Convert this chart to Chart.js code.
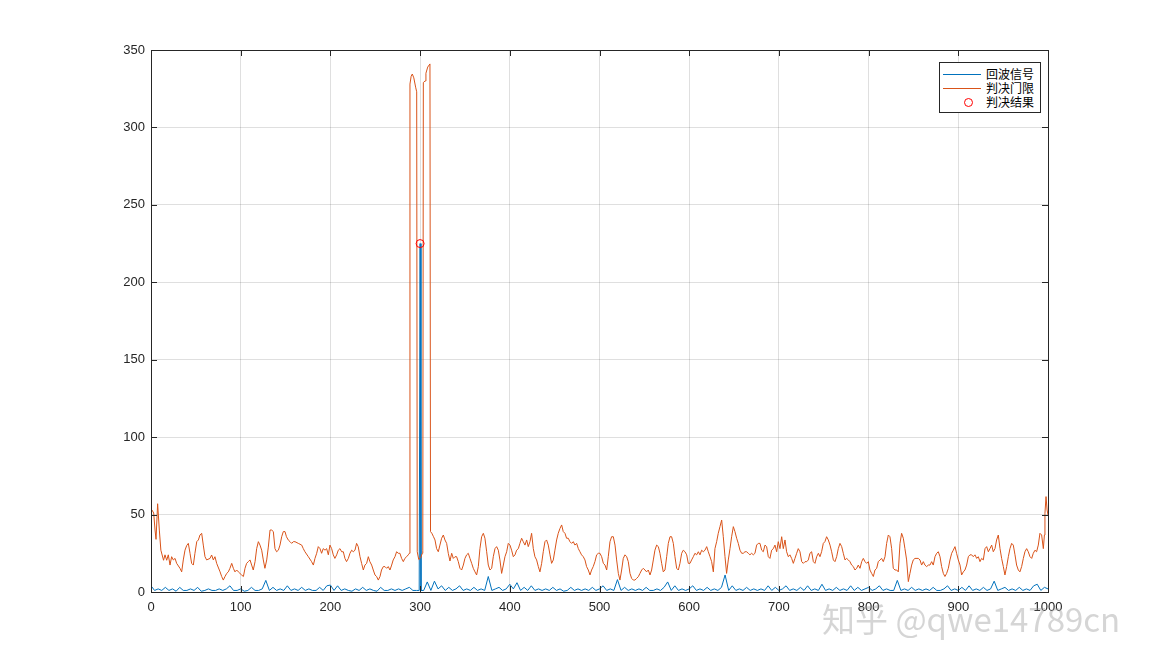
<!DOCTYPE html>
<html>
<head>
<meta charset="utf-8">
<script src="https://cdn.jsdelivr.net/npm/chart.js@4.4.0/dist/chart.umd.min.js"></script>
<style>
  body { margin: 0; background: #fff; }
  #wrap { position: relative; width: 1159px; height: 665px; }
  #legend {
    position: absolute; left: 939px; top: 62px; width: 102px; height: 51px;
    border: 1px solid #262626; background: #fff; box-sizing: border-box;
    font-family: "Noto Sans CJK SC", sans-serif; font-size: 12px; color: #000;
  }
  #legend .row { position: absolute; left: 0; width: 100%; height: 14px; line-height: 14px; }
  #legend .sample { position: absolute; left: 3px; top: 7px; width: 38px; border-top: 1px solid; }
  #legend .mark { position: absolute; left: 24px; top: 3px; width: 7px; height: 7px; border: 1px solid #ff0000; border-radius: 50%; }
  #legend .txt { position: absolute; left: 46px; top: 0; }
  #mark {
    position: absolute; left: 822px; top: 594px; white-space: nowrap;
    font-family: "Noto Sans CJK SC", sans-serif; font-size: 33px;
    color: rgba(150, 150, 150, 0.4);
  }
</style>
</head>
<body>
<div id="wrap">
  <canvas id="graphique" width="1159" height="665"></canvas>
  <div id="legend"></div>
  <div id="mark">知乎 @qwe14789cn</div>
</div>
<script>
// Libellés de la légende
const seriesLabels = ['回波信号', '判决门限', '判决结果'];

// Signal d'écho, un échantillon tous les 4 points (x = 0, 4, ..., 1000)
const echoStep = 4;
const echoVals = [
  4, 1, 2, 1, 3, 1, 2, 0.5, 3, 1,
  1, 2, 1, 3, 0.5, 1, 2, 1, 1, 2,
  1, 2, 4, 1, 1, 2, 0.5, 1, 3, 1,
  1, 2, 7.5, 1, 3, 1, 2, 1, 4, 1,
  2, 1, 3, 1, 2, 1, 1, 3, 1, 4,
  4.5, 1, 4, 1, 2, 1, 0.5, 2, 1, 3,
  1, 2, 1, 0.5, 3, 1, 1, 2, 1, 2,
  1, 2, 3, 1, 1, 1, 1, 6.5, 1, 7,
  2, 4, 1, 3, 1, 2, 4, 1, 2, 1,
  3, 1, 2, 1, 10, 1, 2, 3, 1, 2,
  5, 2, 6, 1, 3, 1, 4, 1, 2, 1,
  2, 1, 3, 1, 2, 0.5, 1, 3, 1, 2,
  1, 2, 1, 3, 1, 2, 4, 1, 2, 1,
  8, 1, 3, 1, 2, 1, 2, 1, 3, 1,
  1, 2, 1, 3, 6.5, 1, 4, 1, 2, 1,
  2, 4, 1, 2, 1, 3, 1, 2, 1, 3,
  11, 1, 4, 1, 2, 1, 3, 1, 2, 1,
  2, 1, 4, 1, 3, 1, 2, 4, 1, 2,
  1, 3, 1, 4, 1, 2, 1, 5, 1, 2,
  1, 3, 1, 2, 1, 4, 1, 3, 1, 2,
  3, 1, 2, 4, 1, 2, 1, 1, 7.5, 1,
  2, 1, 3, 1, 2, 1, 2, 1, 3, 1,
  1, 2, 4, 1, 2, 1, 3, 1, 4, 1,
  2, 1, 3, 1, 2, 7, 1, 2, 3, 1,
  2, 1, 3, 1, 2, 1, 4, 5, 1, 3,
  2
];
// Le pic de la cible
const echoPeak = [[299, 1], [300, 225], [301, 1]];

// Seuil de décision [x, y]
const thresholdPts = [
  [1, 53], [3, 51], [4.5, 40], [5.6, 34], [7.4, 57], [9.3, 40], [11, 27], [14, 20.5], [15.6, 24], [17.5, 20.5],
  [19.3, 24], [21.2, 17.4], [23, 22.8], [24.9, 20.7], [26.8, 21.7], [28.6, 18.5], [32.3, 15.3], [34.2, 13], [36, 20.7], [37.9, 27],
  [39.8, 30], [41.6, 31.4], [43.5, 25], [45.3, 18.5], [47.2, 17.4], [49, 25], [51, 32.5], [52.8, 33.6], [54.6, 36.8], [56.5, 37.9],
  [58.3, 30.3], [60.2, 22.8], [62, 20.7], [65.8, 21.7], [67.6, 23.9], [69.5, 20.7], [71.3, 22.8], [73.2, 18.5], [77, 13], [78.8, 10],
  [80.6, 7.7], [82.5, 10], [84.4, 12], [86.2, 13], [88, 15.3], [90, 18.5], [91.8, 15.3], [93.6, 13], [95.5, 14.2], [97.4, 13],
  [99.2, 12], [101, 11], [103, 10], [104.8, 15.3], [106.6, 18.5], [108.5, 19.6], [110.4, 20.7], [112.2, 17.4], [114, 14.2], [116, 19.6],
  [117.8, 28], [119.7, 32.5], [121.5, 30.3], [123.4, 27], [125.2, 20.7], [127, 15.3], [129, 20.7], [130.8, 29], [132.7, 40], [134.5, 40],
  [136.4, 39], [138.2, 28], [140, 26], [142, 27], [143.8, 30.3], [145.7, 35.7], [147.5, 39], [149.4, 39], [151, 35.7], [153, 33.6],
  [155, 32.5], [156.8, 31.4], [158.7, 32.5], [160.5, 32.5], [164.2, 31.4], [168, 30.3], [169.8, 28], [171.6, 26], [175.4, 22.8], [179, 19.6],
  [181, 17.4], [182.8, 21.7], [184.7, 25], [186.5, 29.3], [188.4, 28], [190.2, 25], [192, 28], [194, 27], [195.8, 28], [197.7, 24],
  [199.5, 30.3], [201.4, 28], [203.2, 24], [205, 21.7], [207, 24], [208.8, 27], [210.7, 28], [212.5, 26], [214.4, 26], [216.2, 21.7],
  [218, 19.6], [220, 21.7], [221.8, 25], [223.7, 27], [225.5, 26], [227.4, 27], [229.2, 31.4], [231, 29.3], [233, 22.8], [234.8, 18.5],
  [236.7, 14.2], [238.5, 17.4], [240.4, 18.5], [242.3, 22.8], [244, 19.6], [246, 17.4], [247.8, 14.2], [249.7, 11], [251.5, 10], [253.4, 7.7],
  [255.3, 10], [257, 14.2], [259, 16.4], [260.8, 16.4], [262.7, 15.3], [264.5, 16.4], [266.4, 14.2], [268.3, 17.4], [270, 20.7], [272, 22.8],
  [273.8, 26], [275.7, 25], [277.5, 25], [279.4, 21.7], [281.3, 19.6], [283, 21.7], [285, 22.8], [286.8, 24], [288, 25],
  [288.7, 328], [290, 333], [291.3, 334.5], [293, 332], [295, 326], [296.2, 323], [296.8, 26], [298.5, 21], [300.5, 22], [302.5, 25],
  [303, 27], [303.6, 329], [305.5, 330], [306.5, 335], [308.5, 339], [311, 341], [311.6, 39],
  [313, 38], [314.7, 36], [316.6, 33.6], [318.4, 28], [320.3, 26], [322.1, 30.3], [324, 34.7], [325.9, 36.8], [327.7, 33.6], [329.6, 31.4],
  [331.4, 25], [333.3, 20], [335.2, 25], [337, 21.7], [338.9, 22.8], [340.7, 22.8], [342.6, 19.6], [344.4, 15.3], [346.3, 14.2], [348.2, 17.4],
  [350, 21.7], [351.9, 24], [353.7, 25], [355.6, 21.7], [357.5, 18.5], [359.3, 15.3], [361.2, 13], [363, 11], [364.9, 16.4], [366.7, 28],
  [368.6, 35.7], [370.5, 37.9], [372.3, 34.7], [374.2, 26], [376, 17.4], [377.9, 14.2], [379.8, 15.3], [381.6, 22.8], [383.5, 28], [385.3, 29.3],
  [387.2, 27], [389, 20.7], [390.9, 12], [392.8, 17.4], [394.6, 22.8], [396.5, 26], [398.3, 31.4], [400.2, 30.3], [402, 27], [403.9, 22.8],
  [405.8, 24], [407.6, 27], [409.5, 28], [411.3, 31.4], [413.2, 34.7], [415, 32.5], [416.9, 30.3], [418.8, 33.6], [420.6, 29.3], [422.5, 32.5],
  [424.3, 37.9], [426.2, 28], [428, 22.8], [429.9, 20.7], [431.8, 16.4], [433.6, 13], [435.5, 18.5], [437.3, 26], [439.2, 32.5], [441, 33.6],
  [442.9, 30.3], [444.8, 24], [446.6, 18.5], [448.5, 20.7], [450.3, 27], [452.2, 33.6], [454, 37.9], [455.9, 41], [457.8, 43.3], [459.6, 39],
  [461.5, 37.9], [463.3, 34.7], [465.2, 34.7], [467, 32.5], [468.9, 31.4], [470.8, 32.5], [472.6, 30.3], [474.5, 31.4], [476.4, 28], [478.2, 26],
  [480, 24], [481.9, 22.8], [483.8, 20.7], [485.6, 16.4], [487.5, 14.2], [489.4, 11], [491.2, 14.2], [493, 16.4], [494.9, 19.6], [496.8, 24],
  [498.7, 25], [500.5, 25], [502.4, 22.8], [504.3, 18.5], [506.1, 17.4], [508, 14.2], [509.8, 22.8], [511.7, 32.5], [513.5, 35.7], [515.4, 35.7],
  [517.3, 30.3], [519.1, 20.7], [521, 12], [522.8, 7.7], [524.7, 14.2], [526.5, 21.7], [528.4, 24], [530.3, 22.8], [532.1, 19.6], [534, 12],
  [535.8, 8.8], [537.7, 7.7], [539.5, 7.7], [541.4, 8.8], [543.3, 9.9], [545.1, 12], [547, 14.2], [548.8, 15.3], [550.7, 14.2], [552.5, 13],
  [554.4, 14.2], [556.3, 11], [558.1, 14.2], [560, 20.7], [561.8, 27], [563.7, 30.3], [565.6, 29.3], [567.4, 25], [569.3, 18.5], [571.1, 13],
  [573, 14.2], [574.9, 22.8], [576.7, 31.4], [578.6, 35.7], [580.4, 35.7], [582.3, 31.4], [584.1, 22.8], [586, 15.3], [587.9, 14.2], [589.7, 18.5],
  [591.6, 25], [593.4, 27], [595.3, 26], [597.2, 24], [599, 18.5], [600.9, 18.5], [602.7, 20.7], [604.6, 22.8], [606.4, 25], [608.3, 24],
  [610.2, 26], [612, 24], [613.9, 27], [615.7, 26], [617.6, 27], [619.5, 29.3], [621.3, 26], [623.2, 22.8], [625, 19.6], [626.9, 13],
  [628.7, 28], [630.6, 32.5], [632.4, 37.9], [634.3, 42.2], [636.2, 46.5], [638, 35.7], [639.9, 22.8], [641.7, 12], [643.6, 20.7], [645.5, 28],
  [647.3, 35.7], [649.2, 42.2], [651, 39], [652.9, 34.7], [654.7, 31.4], [656.6, 27], [658.5, 25], [660.3, 25], [662.2, 26], [664, 26],
  [665.9, 25], [667.7, 24], [669.6, 25], [671.5, 24], [673.3, 25], [675.2, 30.3], [677, 31.4], [678.9, 31.4], [680.8, 27], [682.6, 26],
  [684.5, 30.3], [686.3, 29.3], [688.2, 22.8], [690, 21.7], [691.9, 27], [693.8, 28], [695.6, 30.3], [697.5, 26], [699.3, 32.5], [701.2, 28],
  [703.1, 35.7], [704.9, 28], [706.8, 33.6], [708.6, 26], [710.5, 22.8], [712.3, 24], [714.2, 21.7], [716.1, 18.5], [717.9, 21.7], [719.8, 25],
  [721.6, 28], [723.5, 26], [725.4, 19.6], [727.2, 18.5], [729.1, 19.6], [731, 19.6], [732.8, 20.7], [734.6, 25], [736.5, 26], [738.4, 19.6],
  [740.2, 18.5], [742.1, 22.8], [744, 25], [745.8, 22.8], [747.6, 26], [749.5, 31.4], [751.3, 32.5], [753.2, 35.7], [755.1, 33.6], [757, 30.3],
  [758.8, 26], [760.7, 20.7], [762.5, 19.6], [764.4, 22.8], [766.2, 28], [768.1, 31.4], [770, 29.3], [771.8, 25], [773.7, 20.7], [775.5, 21.7],
  [777.4, 20.7], [779.2, 19.6], [781.1, 17.4], [783, 16.4], [784.8, 14.2], [786.7, 15.3], [788.5, 17.4], [790.4, 15.3], [792.3, 19.6], [794.1, 21.7],
  [796, 19.6], [797.8, 18.5], [799.7, 19.6], [801.5, 14.2], [803.4, 12], [805.3, 10], [807.1, 14.2], [809, 15.3], [810.8, 19.6], [812.7, 20.7],
  [814.5, 21.7], [816.4, 19.6], [818.3, 22.8], [820.1, 31.4], [822, 36.8], [823.8, 35.7], [825.7, 28], [827.5, 15.3], [829.4, 14.2], [831.3, 14.2],
  [833.1, 13], [835, 31.4], [836.8, 37.9], [838.7, 34.7], [840.5, 28], [842.4, 20.7], [844.3, 6.7], [846.1, 12], [848, 17.4], [849.8, 20.7],
  [851.7, 21.7], [855.4, 21.7], [857.3, 20.7], [859.1, 17.4], [861, 19.6], [862.8, 17.4], [864.7, 16.4], [866.6, 17.4], [868.4, 17.4], [870.3, 19.6],
  [872.1, 17.4], [874, 22.8], [875.9, 25], [877.7, 26], [879.6, 22.8], [881.4, 16.4], [883.3, 12], [885.1, 10], [887, 12], [888.9, 15.3],
  [890.7, 20.7], [892.6, 25], [894.4, 27], [896.3, 29.3], [898.1, 25], [900, 20.7], [901.9, 17.4], [903.7, 11], [905.6, 13], [907.4, 14.2],
  [909.3, 17.4], [911.2, 22.8], [913, 24], [914.9, 24], [916.7, 22.8], [918.6, 24], [920.5, 21.7], [922.3, 22.8], [924.2, 19.6], [926, 21.7],
  [927.9, 20.7], [929.8, 28], [931.6, 29.3], [933.5, 26], [935.3, 28], [937.2, 30.3], [939, 26], [940.9, 28], [942.7, 33.6], [944.6, 36.8],
  [946.5, 28], [948.3, 21.7], [950.2, 16.4], [952, 11], [953.9, 16.4], [955.8, 22.8], [957.6, 28], [959.5, 31.4], [961.3, 30.3], [963.2, 24],
  [965, 17.4], [966.9, 14.2], [968.7, 13], [970.6, 16.4], [972.5, 21.7], [974.3, 26], [976.2, 28], [978, 26], [979.9, 22.8], [981.8, 21.7],
  [983.6, 25], [985.5, 27], [987.3, 26], [989.2, 30.3], [991, 37.9], [992.9, 36.8], [994.8, 28], [996, 36.8], [996.6, 50.8], [997.8, 61.6],
  [999, 53], [1000, 49.7]
];

// Résultat de la décision
const resultX = [300];
const resultY = [225];

const couleurs = ['#0072BD', '#D95319', '#FF0000'];

// Construire les données du signal
const echoData = echoVals.map((v, i) => ({ x: i * echoStep, y: v }))
  .filter(p => p.x < 298 || p.x > 302)
  .concat(echoPeak.map(p => ({ x: p[0], y: p[1] })))
  .sort((a, b) => a.x - b.x);
const thresholdData = thresholdPts.map(p => ({ x: p[0], y: p[1] }));
const resultData = resultX.map((x, i) => ({ x: x, y: resultY[i] }));

// Cadre et graduations intérieures façon MATLAB
const cadrePlugin = {
  id: 'cadre',
  afterDraw(chart) {
    const { ctx, chartArea: a, scales } = chart;
    ctx.save();
    ctx.strokeStyle = '#262626';
    ctx.lineWidth = 1;
    ctx.strokeRect(Math.round(a.left) + 0.5, Math.round(a.top) + 0.5,
      Math.round(a.right - a.left), Math.round(a.bottom - a.top));
    ctx.beginPath();
    scales.x.ticks.forEach(t => {
      const px = Math.round(scales.x.getPixelForValue(t.value)) + 0.5;
      ctx.moveTo(px, a.bottom); ctx.lineTo(px, a.bottom - 6);
      ctx.moveTo(px, a.top); ctx.lineTo(px, a.top + 6);
    });
    scales.y.ticks.forEach(t => {
      const py = Math.round(scales.y.getPixelForValue(t.value)) + 0.5;
      ctx.moveTo(a.left, py); ctx.lineTo(a.left + 6, py);
      ctx.moveTo(a.right, py); ctx.lineTo(a.right - 6, py);
    });
    ctx.stroke();
    ctx.restore();
  }
};

const ctx = document.getElementById('graphique').getContext('2d');
const myChart = new Chart(ctx, {
  type: 'line',
  data: {
    datasets: [{
      label: seriesLabels[0],
      data: echoData,
      borderColor: couleurs[0],
      borderWidth: 1,
      pointRadius: 0,
      tension: 0,
      order: 3
    }, {
      label: seriesLabels[1],
      data: thresholdData,
      borderColor: couleurs[1],
      borderWidth: 1,
      pointRadius: 0,
      tension: 0,
      order: 2
    }, {
      label: seriesLabels[2],
      type: 'scatter',
      data: resultData,
      showLine: false,
      pointRadius: 4,
      pointStyle: 'circle',
      borderColor: couleurs[2],
      backgroundColor: 'rgba(0,0,0,0)',
      borderWidth: 1,
      order: 1
    }]
  },
  options: {
    responsive: false,
    animation: false,
    devicePixelRatio: 1,
    layout: { padding: { left: 111, right: 111, top: 50, bottom: 43 } },
    plugins: {
      legend: { display: false },
      tooltip: { enabled: false }
    },
    scales: {
      x: {
        type: 'linear',
        min: 0,
        max: 1000,
        afterFit: s => { s.height = 30; },
        grid: { color: 'rgba(38,38,38,0.15)', drawTicks: false },
        border: { display: true, color: '#262626' },
        ticks: {
          stepSize: 100,
          padding: 8,
          color: '#262626',
          font: { family: 'Liberation Sans', size: 13 },
          maxRotation: 0,
          callback: value => String(value)
        }
      },
      y: {
        type: 'linear',
        min: 0,
        max: 350,
        afterFit: s => { s.width = 40; },
        grid: { color: 'rgba(38,38,38,0.15)', drawTicks: false },
        border: { display: true, color: '#262626' },
        ticks: {
          stepSize: 50,
          padding: 6,
          color: '#262626',
          font: { family: 'Liberation Sans', size: 13 },
          callback: value => String(value)
        }
      }
    }
  },
  plugins: [cadrePlugin]
});

// Légende dans la zone du graphique
const legende = document.getElementById('legend');
seriesLabels.forEach((label, i) => {
  const row = document.createElement('div');
  row.className = 'row';
  row.style.top = (4 + i * 14) + 'px';
  const sample = document.createElement('span');
  if (i < 2) {
    sample.className = 'sample';
    sample.style.borderTopColor = couleurs[i];
  } else {
    sample.className = 'mark';
  }
  const txt = document.createElement('span');
  txt.className = 'txt';
  txt.textContent = label;
  row.appendChild(sample);
  row.appendChild(txt);
  legende.appendChild(row);
});
</script>
</body>
</html>
